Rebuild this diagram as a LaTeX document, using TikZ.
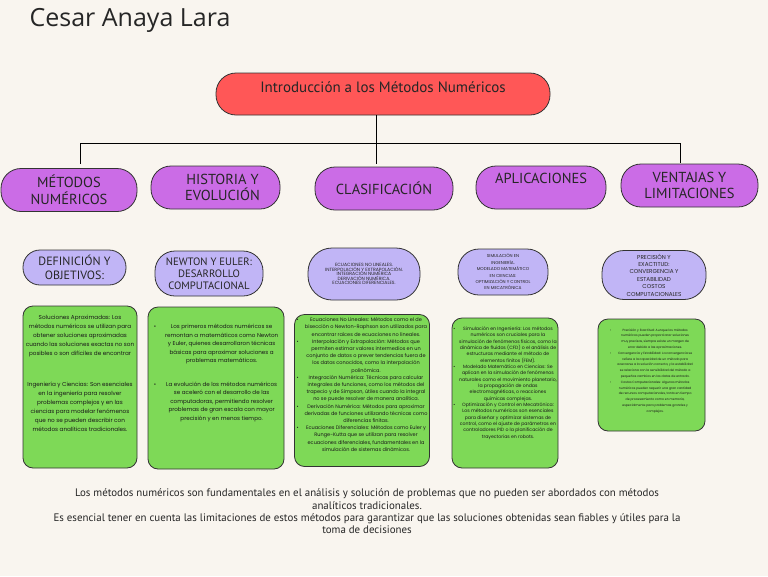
\documentclass[tikz,border=0pt]{standalone}
\usepackage{fontspec}
\setmainfont{PT Sans}
\newfontfamily\titlefont{Open Sans}
\newfontfamily\notefont{Poppins}
\definecolor{paper}{HTML}{F9F5EF}
\definecolor{topred}{HTML}{FF5757}
\definecolor{mainpurple}{HTML}{CB6CE6}
\definecolor{lavender}{HTML}{C1B5F6}
\definecolor{leafgreen}{HTML}{7ED957}

\begin{document}
\begin{tikzpicture}[x=1pt, y=-1pt,
    mainbox/.style={draw=black!80, line width=0.8pt, fill=mainpurple, rounded corners=20pt,
      minimum height=43pt, align=center, text=black!85, font=\fontsize{14.5}{16.5}\selectfont},
    subbox/.style={draw=black!80, line width=0.8pt, fill=lavender, align=center, inner sep=1pt, text=black!85},
    notebox/.style={draw=black!80, line width=0.8pt, fill=leafgreen, rounded corners=10pt, inner sep=0pt, text=black!90}]
  \fill[paper] (0,0) rectangle (768,576);
  \useasboundingbox (0,0) rectangle (768,576);

  \node (author) [anchor=west, text=black!85, font=\titlefont\fontsize{25}{28}\selectfont] at (26,20) {Cesar Anaya Lara};

  \node (intro) [draw=black!80, line width=0.8pt, fill=topred, rounded corners=20pt, minimum width=334pt, minimum height=42pt,
    text height=11pt, text depth=14pt, text=black!85, font=\fontsize{15}{17}\selectfont] at (383,94) {Introducción a los Métodos Numéricos};

  % temas principales
  \node (metodos) [mainbox, minimum width=136pt] at (69,190) {MÉTODOS\\NUMÉRICOS};
  \node (historia) [mainbox, minimum width=129pt] at (215.5,187.5) {\hspace*{14pt}HISTORIA Y\\\hspace*{14pt}EVOLUCIÓN};
  \node (clasif) [mainbox, minimum width=138pt] at (384,188.5) {CLASIFICACIÓN};
  \node (aplic) [mainbox, minimum width=130pt, text height=10pt, text depth=18pt] at (541,187.5) {APLICACIONES};
  \node (ventajas) [mainbox, minimum width=137pt] at (689.5,185.5) {VENTAJAS Y\\LIMITACIONES};

  \coordinate (busL) at (80,143);
  \coordinate (busR) at (680,143);
  \draw[line width=0.8pt] ([xshift=-7pt]intro.south) -- ([xshift=-7pt,yshift=3pt]intro.south |- clasif.north);
  \draw[line width=0.8pt] (busL) -- (busR);
  \draw[line width=0.8pt] (busL) -- ([yshift=4pt]busL |- metodos.north);
  \draw[line width=0.8pt] (busR) -- ([yshift=1pt]busR |- ventajas.north);

  % subtemas
  \node (definicion) [subbox, rounded corners=17pt, minimum width=103pt, minimum height=35pt,
    font=\fontsize{12}{14}\selectfont] at (74.5,267.5) {DEFINICIÓN Y\\OBJETIVOS:};
  \node (newton) [subbox, rounded corners=20pt, minimum width=108pt, minimum height=45pt,
    font=\fontsize{10.7}{12}\selectfont] at (209,273.5) {NEWTON Y EULER:\\DESARROLLO\\COMPUTACIONAL};
  \node (tipos) [subbox, rounded corners=24pt, minimum width=112pt, minimum height=52pt,
    font=\notefont\fontsize{4.6}{4.6}\selectfont] at (364,274)
    {ECUACIONES NO LINEALES.\\INTERPOLACIÓN Y EXTRAPOLACIÓN.\\INTEGRACIÓN NUMÉRICA\\DERIVACIÓN NUMÉRICA.\\ECUACIONES DIFERENCIALES.};
  \node (usos) [subbox, rounded corners=21pt, minimum width=90pt, minimum height=46pt,
    font=\notefont\fontsize{4.3}{6.4}\selectfont] at (503,272)
    {SIMULACIÓN EN\\INGENIERÍA.\\MODELADO MATEMÁTICO\\EN CIENCIAS:\\OPTIMIZACIÓN Y CONTROL\\EN MECATRÓNICA};
  \node (limites) [subbox, rounded corners=22pt, minimum width=104pt, minimum height=49pt,
    font=\notefont\fontsize{5.7}{7.4}\selectfont] at (654,275)
    {PRECISIÓN Y\\EXACTITUD:\\CONVERGENCIA Y\\ESTABILIDAD\\COSTOS\\COMPUTACIONALES};

  % notas
  \node (defnote) [notebox, minimum width=114pt, minimum height=162pt, font=\notefont\fontsize{5.7}{9}\selectfont] at (80,387) {%
    \begin{tabular}{@{}c@{}}
      Soluciones Aproximadas: Los\\
      métodos numéricos se utilizan para\\
      obtener soluciones aproximadas\\
      cuando las soluciones exactas no son\\
      posibles o son difíciles de encontrar\\[22pt]
      Ingeniería y Ciencias: Son esenciales\\
      en la ingeniería para resolver\\
      problemas complejos y en las\\
      ciencias para modelar fenómenos\\
      que no se pueden describir con\\
      métodos analíticos tradicionales.\\[26pt]
    \end{tabular}};
  \node (histnote) [notebox, minimum width=136pt, minimum height=162pt, font=\notefont\fontsize{5.6}{8.5}\selectfont] at (216,388) {%
    \begin{tabular}{@{}l@{\hspace{9pt}}c@{}}
      \textbullet & Los primeros métodos numéricos se\\
      & remontan a matemáticos como Newton\\
      & y Euler, quienes desarrollaron técnicas\\
      & básicas para aproximar soluciones a\\
      & problemas matemáticos.\\[15pt]
      \textbullet & La evolución de los métodos numéricos\\
      & se aceleró con el desarrollo de las\\
      & computadoras, permitiendo resolver\\
      & problemas de gran escala con mayor\\
      & precisión y en menos tiempo.\\[30pt]
    \end{tabular}};
  \node (tiposnote) [notebox, minimum width=135pt, minimum height=152pt, font=\notefont\fontsize{5}{7.2}\selectfont] at (362,390.5) {%
    \begin{tabular}{@{}l@{\hspace{6pt}}c@{}}
      \textbullet & Ecuaciones No Lineales: Métodos como el de\\
      & bisección o Newton-Raphson son utilizados para\\
      & encontrar raíces de ecuaciones no lineales.\\
      \textbullet & Interpolación y Extrapolación: Métodos que\\
      & permiten estimar valores intermedios en un\\
      & conjunto de datos o prever tendencias fuera de\\
      & los datos conocidos, como la interpolación\\
      & polinómica.\\
      \textbullet & Integración Numérica: Técnicas para calcular\\
      & integrales de funciones, como los métodos del\\
      & trapecio y de Simpson, útiles cuando la integral\\
      & no se puede resolver de manera analítica.\\
      \textbullet & Derivación Numérica: Métodos para aproximar\\
      & derivadas de funciones utilizando técnicas como\\
      & diferencias finitas.\\
      \textbullet & Ecuaciones Diferenciales: Métodos como Euler y\\
      & Runge-Kutta que se utilizan para resolver\\
      & ecuaciones diferenciales, fundamentales en la\\
      & simulación de sistemas dinámicos.\\[11pt]
    \end{tabular}};
  \node (usosnote) [notebox, minimum width=106pt, minimum height=150pt, font=\notefont\fontsize{4.65}{6.35}\selectfont] at (505,393) {%
    \begin{tabular}{@{}l@{\hspace{4pt}}c@{}}
      \textbullet & Simulación en Ingeniería: Los métodos\\
      & numéricos son cruciales para la\\
      & simulación de fenómenos físicos, como la\\
      & dinámica de fluidos (CFD) o el análisis de\\
      & estructuras mediante el método de\\
      & elementos finitos (FEM).\\
      \textbullet & Modelado Matemático en Ciencias: Se\\
      & aplican en la simulación de fenómenos\\
      & naturales como el movimiento planetario,\\
      & la propagación de ondas\\
      & electromagnéticas, o reacciones\\
      & químicas complejas.\\
      \textbullet & Optimización y Control en Mecatrónica:\\
      & Los métodos numéricos son esenciales\\
      & para diseñar y optimizar sistemas de\\
      & control, como el ajuste de parámetros en\\
      & controladores PID o la planificación de\\
      & trayectorias en robots.\\[20pt]
    \end{tabular}};
  \node (limnote) [notebox, minimum width=107pt, minimum height=112pt, font=\notefont\fontsize{3.1}{5.8}\selectfont] at (651.5,375) {%
    \begin{tabular}{@{}l@{\hspace{6pt}}c@{}}
      \textbullet & Precisión y Exactitud: Aunque los métodos\\
      & numéricos pueden proporcionar soluciones\\
      & muy precisas, siempre existe un margen de\\
      & error debido a las aproximaciones.\\
      \textbullet & Convergencia y Estabilidad: La convergencia se\\
      & refiere a la capacidad de un método para\\
      & acercarse a la solución correcta, y la estabilidad\\
      & se relaciona con la sensibilidad del método a\\
      & pequeños cambios en los datos de entrada.\\
      \textbullet & Costos Computacionales: Algunos métodos\\
      & numéricos pueden requerir una gran cantidad\\
      & de recursos computacionales, tanto en tiempo\\
      & de procesamiento como en memoria,\\
      & especialmente para problemas grandes y\\
      & complejos.\\[9pt]
    \end{tabular}};

  \node (summary) [align=center, text=black!85, font=\fontsize{10.9}{12.3}\selectfont] at (367,511.5)
    {Los métodos numéricos son fundamentales en el análisis y solución de problemas que no pueden ser abordados con métodos\\
     analíticos tradicionales.\\
     Es esencial tener en cuenta las limitaciones de estos métodos para garantizar que las soluciones obtenidas sean fiables y útiles para la\\
     toma de decisiones};
\end{tikzpicture}
\end{document}
